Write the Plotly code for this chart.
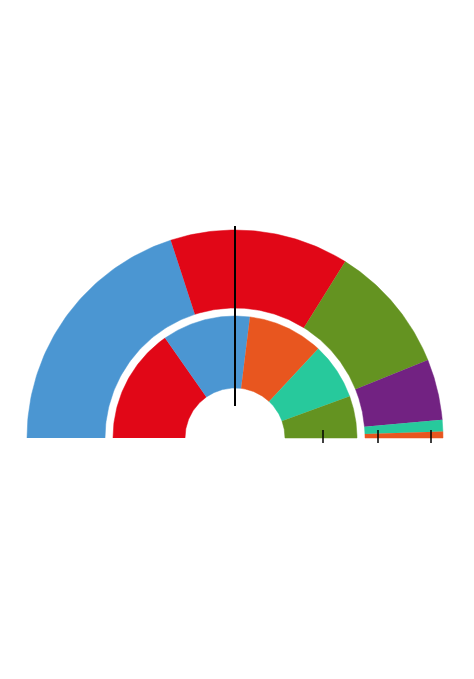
import numpy as np
import plotly.graph_objects as go

# shares in degrees of the semicircle (sum 180), left to right
outer_parties = ["Blue", "Red", "Green", "Purple", "Teal", "Orange"]
outer_deg = [72, 50, 36, 17, 3.2, 1.8]
outer_colors = ["#4b96d2", "#e10717", "#649321", "#722282", "#27c99c", "#e8561f"]
inner_parties = ["Red", "Blue", "Orange", "Teal", "Green"]
inner_deg = [55, 42, 36, 27, 20]
inner_colors = ["#e10717", "#4b96d2", "#e8561f", "#27c99c", "#649321"]
outer_r = (130, 208)
inner_r = (50, 122)
tick_x = [88, 143, 196]

fig = go.Figure()

def ring(degs, colors, names, r0, r1):
    start = 180.0
    for d, c, n in zip(degs, colors, names):
        t = np.radians(np.linspace(start, start - d, 60))
        xs = np.concatenate([r1 * np.cos(t), r0 * np.cos(t[::-1])])
        ys = np.concatenate([r1 * np.sin(t), r0 * np.sin(t[::-1])])
        fig.add_trace(go.Scatter(x=xs, y=ys, fill="toself", fillcolor=c,
                                 line=dict(width=0.5, color=c), mode="lines",
                                 name=n, hoverinfo="name", showlegend=False))
        start -= d

ring(outer_deg, outer_colors, outer_parties, *outer_r)
ring(inner_deg, inner_colors, inner_parties, *inner_r)

fig.add_trace(go.Scatter(x=[0, 0], y=[32, 212], mode="lines",
                         line=dict(color="black", width=2), showlegend=False))
for tx in tick_x:
    fig.add_trace(go.Scatter(x=[tx, tx], y=[-5, 8], mode="lines",
                             line=dict(color="black", width=1.5), showlegend=False))

fig.update_layout(width=474, height=679, margin=dict(l=0, r=0, t=0, b=0),
                  paper_bgcolor="white", plot_bgcolor="white",
                  xaxis=dict(range=[-227, 247], visible=False, fixedrange=True),
                  yaxis=dict(range=[-249, 430], visible=False, fixedrange=True))
fig.write_html("out.html")
